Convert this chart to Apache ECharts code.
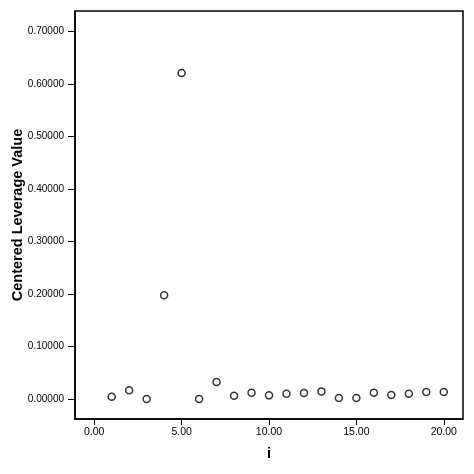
<!DOCTYPE html>
<html><head><meta charset="utf-8">
<script src="https://cdn.jsdelivr.net/npm/echarts@6/dist/echarts.min.js"></script>
<style>html,body{margin:0;padding:0;background:#fff}#c{width:474px;height:474px}</style>
</head><body><div id="c"></div>
<script>
const caseIndex = [1,2,3,4,5,6,7,8,9,10,11,12,13,14,15,16,17,18,19,20];
const leverage = [0.0045,0.0166,0.0000,0.1975,0.6210,0.0000,0.0325,0.0064,0.0120,0.0070,0.0100,0.0115,0.0146,0.0020,0.0020,0.0120,0.0076,0.0100,0.0134,0.0134];
const xTicks = [0,5,10,15,20];
const yTicks = [0,0.1,0.2,0.3,0.4,0.5,0.6,0.7];

const chart = echarts.init(document.getElementById('c'));
const font = 'Liberation Sans, Arial, sans-serif';
chart.setOption({
  animation:false,
  backgroundColor:'#fff',
  grid:{left:75,top:11,right:11,bottom:55,show:true,borderColor:'#000',borderWidth:1.5,backgroundColor:'transparent',outerBoundsMode:'none',containLabel:false},
  xAxis:{type:'value',min:-1.1,max:21.1,
    name:'i',nameLocation:'middle',nameGap:27,nameMoveOverlap:false,
    nameTextStyle:{fontFamily:font,fontWeight:'bold',fontSize:14.5,color:'#000'},
    axisLine:{show:true,onZero:false,lineStyle:{color:'#000',width:1.5}},
    axisTick:{show:true,customValues:xTicks,length:6,lineStyle:{color:'#000',width:1}},
    axisLabel:{customValues:xTicks,formatter:v=>v.toFixed(2),fontFamily:font,fontSize:10.5,color:'#000',margin:8},
    splitLine:{show:false}},
  yAxis:{type:'value',min:-0.038,max:0.739,
    name:'Centered Leverage Value',nameLocation:'middle',nameGap:50,nameRotate:90,nameMoveOverlap:false,
    nameTextStyle:{fontFamily:font,fontWeight:'bold',fontSize:14.5,color:'#000'},
    axisLine:{show:true,onZero:false,lineStyle:{color:'#000',width:1.5}},
    axisTick:{show:true,customValues:yTicks,length:7,lineStyle:{color:'#000',width:1}},
    axisLabel:{customValues:yTicks,formatter:v=>v.toFixed(5),fontFamily:font,fontSize:10,color:'#000',margin:11},
    splitLine:{show:false}},
  series:[{type:'scatter',data:caseIndex.map((x,i)=>[x,leverage[i]]),
    symbol:'circle',symbolSize:7,
    itemStyle:{color:'#fff',borderColor:'#000',borderWidth:1.5}}]
});
</script></body></html>
